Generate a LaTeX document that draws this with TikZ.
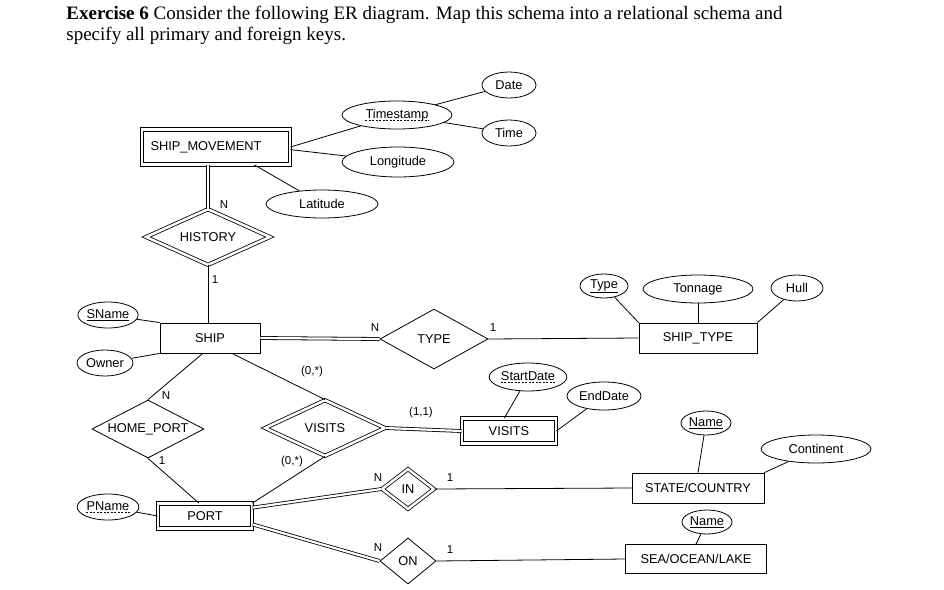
\documentclass[tikz,border=0pt]{standalone}
\usepackage{fontspec}
\setmainfont{Liberation Sans}
\newfontfamily\titlefont{Liberation Serif}
\usetikzlibrary{shapes.geometric}
\newcommand\myDul[1]{\tikz[baseline=(d.base),x=1pt,y=1pt]{\node[inner sep=0,draw=none,shape=rectangle,minimum width=0,minimum height=0](d){#1};\draw[dash pattern=on 2pt off 1.5pt,line width=0.5pt] ([yshift=-2pt]d.base west)--([yshift=-2pt]d.base east);}}
\begin{document}
\begin{tikzpicture}[x=1pt,y=-1pt,line width=0.8pt,
  every node/.style={font=\fontsize{12.8}{14}\selectfont},
  ent/.style={draw,rectangle,inner sep=0pt},
  went/.style={draw,rectangle,inner sep=0pt,double,double distance=2.5pt},
  rel/.style={draw,diamond,inner sep=0pt,aspect=2},
  wrel/.style={draw,diamond,inner sep=0pt,aspect=2,double,double distance=2.5pt},
  att/.style={draw,ellipse,inner sep=0pt},
  dbl/.style={double,double distance=2.2pt},
  lab/.style={font=\fontsize{11.5}{12}\selectfont,inner sep=1pt}]
\useasboundingbox (0,0) rectangle (944,589);
\node[anchor=base west,inner sep=0,font=\titlefont\fontsize{19}{22}\selectfont] (t1) at (66,19) {\textbf{Exercise 6} Consider the following ER diagram. Map this schema into a relational schema and};
\node[anchor=base west,inner sep=0,font=\titlefont\fontsize{19}{22}\selectfont] (t2) at (66,40) {specify all primary and foreign keys.};
% entities
\node[went,minimum width=148,minimum height=35] (SM) at (216,147) {\hspace*{-20pt}SHIP\_MOVEMENT};
\node[ent,minimum width=100,minimum height=30] (SHIP) at (210,338) {SHIP};
\node[ent,minimum width=118,minimum height=30] (ST) at (698,338) {SHIP\_TYPE};
\node[went,minimum width=94,minimum height=25] (VE) at (509,431) {VISITS};
\node[went,minimum width=94,minimum height=25] (PORT) at (205,516) {PORT};
\node[ent,minimum width=132,minimum height=30] (SC) at (698,488) {STATE/COUNTRY};
\node[ent,minimum width=141,minimum height=29] (SOL) at (696,559) {SEA/OCEAN/LAKE};
% relationships
\node[wrel,minimum width=124,minimum height=56] (HIST) at (208,237) {HISTORY};
\node[rel,minimum width=108,minimum height=60] (TYPE) at (434,339) {TYPE};
\node[rel,minimum width=112,minimum height=58] (HP) at (148,429) {HOME\_PORT};
\node[wrel,minimum width=120,minimum height=56] (VR) at (325,428) {VISITS};
\node[wrel,minimum width=52,minimum height=40] (IN) at (408,489) {IN};
\node[rel,minimum width=56,minimum height=46] (ON) at (408,561) {ON};
% attributes
\node[att,minimum width=110,minimum height=28] (TS) at (397,115) {\myDul{Timestamp}};
\node[att,minimum width=54,minimum height=26] (DATE) at (509,85) {Date};
\node[att,minimum width=54,minimum height=26] (TIME) at (509,133) {Time};
\node[att,minimum width=112,minimum height=30] (LON) at (398,162) {Longitude};
\node[att,minimum width=112,minimum height=28] (LAT) at (322,204) {Latitude};
\node[att,minimum width=56,minimum height=26] (SN) at (108,315) {\underline{SName}};
\node[att,minimum width=56,minimum height=26] (OW) at (105,363) {Owner};
\node[att,minimum width=48,minimum height=24] (TY) at (604,286) {\underline{Type}};
\node[att,minimum width=110,minimum height=28] (TON) at (698,289) {Tonnage};
\node[att,minimum width=52,minimum height=26] (HULL) at (797,288) {Hull};
\node[att,minimum width=74,minimum height=28] (SD) at (528,377) {\myDul{StartDate}};
\node[att,minimum width=74,minimum height=28] (ED) at (604,396) {EndDate};
\node[att,minimum width=58,minimum height=26] (PN) at (108,507) {\myDul{PName}};
\node[att,minimum width=50,minimum height=24] (N1) at (706,423) {\underline{Name}};
\node[att,minimum width=110,minimum height=28] (CON) at (816,449) {Continent};
\node[att,minimum width=50,minimum height=24] (N2) at (707,522) {\underline{Name}};
% connectors
\draw (SM.east) -- (TS);
\draw (TS) -- (DATE); \draw (TS) -- (TIME);
\draw (SM.-2) -- (LON);
\draw (SM.-25) -- (LAT);
\draw[dbl] (SM.south -| HIST.north) -- (HIST.north);
\draw (HIST.south) -- (HIST.south |- SHIP.north);
\draw (SN) -- (SHIP.north west);
\draw (OW) -- (SHIP.south west);
\draw[dbl] (SHIP.east) -- (TYPE.west);
\draw (TYPE.east) -- (ST.west);
\draw (TY) -- (ST.north west);
\draw (TON) -- (ST.north);
\draw (HULL) -- (ST.north east);
\draw (SHIP.-115) -- (HP.north);
\draw (HP.south) -- (PORT.115);
\draw (SHIP.-35) -- (VR.north);
\draw (VR.south) -- (PORT.north east);
\draw[dbl] (VR.east) -- (VE.west);
\draw (SD) -- (VE.110);
\draw (ED) -- (VE.east);
\draw (PN) -- (PORT.west);
\draw[dbl] (PORT.10) -- (IN.west);
\draw (IN.east) -- (SC.west);
\draw (N1) -- (SC.north);
\draw (CON) -- (SC.north east);
\draw[dbl] (PORT.-10) -- (ON.west);
\draw (ON.east) -- (SOL.west);
\draw (N2) -- (SOL.north);
% labels
\node[lab] (l1) at (224,205) {N};
\node[lab] (l2) at (215,280) {1};
\node[lab] (l3) at (375,328) {N};
\node[lab] (l4) at (493,328) {1};
\node[lab] (l5) at (166,396) {N};
\node[lab] (l6) at (162,461) {1};
\node[lab] (l7) at (312,372) {(0,*)};
\node[lab] (l8) at (292,462) {(0,*)};
\node[lab] (l9) at (421,413) {(1,1)};
\node[lab] (l10) at (378,478) {N};
\node[lab] (l11) at (450,478) {1};
\node[lab] (l12) at (378,548) {N};
\node[lab] (l13) at (450,550) {1};
\end{tikzpicture}
\end{document}
